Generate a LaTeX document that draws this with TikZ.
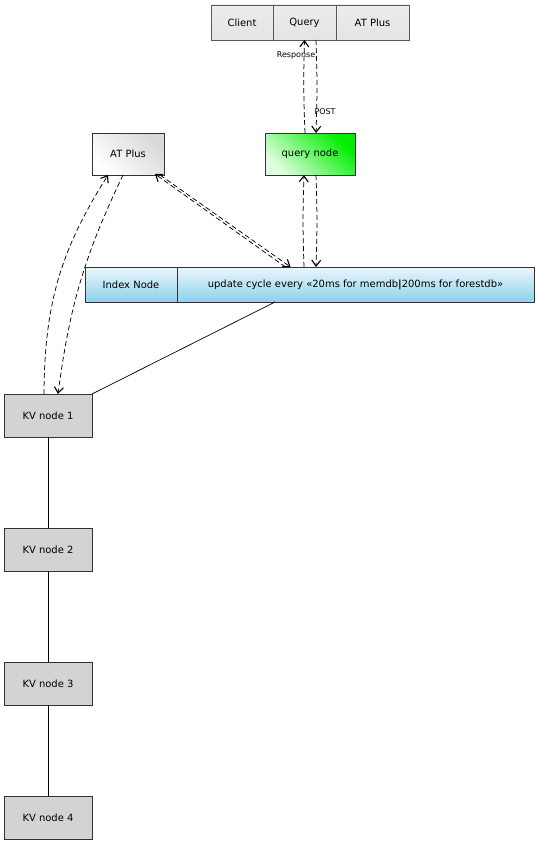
\documentclass[tikz,border=0pt]{standalone}
\usepackage{fontspec}
\setmainfont{DejaVu Sans}
\usetikzlibrary{arrows.meta}

\definecolor{boxline}{HTML}{333333}
\definecolor{bargray}{HTML}{E4E4E4}
\definecolor{kvgray}{HTML}{D3D3D3}
\definecolor{idxtop}{HTML}{EAF7FC}
\definecolor{idxbot}{HTML}{8ED1EC}
\definecolor{qgreen}{HTML}{00EE00}

\begin{document}
\begin{tikzpicture}[x=1bp,y=-1bp,>={Straight Barb[length=6bp,width=9bp,line width=1.1bp]},
    every node/.style={draw=boxline,line width=0.8bp,inner sep=0pt,outer sep=0pt,
      font=\fontsize{10}{12}\selectfont},
    barcell/.style={rectangle,top color=bargray!70,bottom color=bargray,draw=black!65,minimum height=35bp},
    kvbox/.style={rectangle,fill=kvgray,minimum width=88bp,minimum height=43bp},
    idxcell/.style={rectangle,top color=idxtop,bottom color=idxbot,minimum height=35bp},
    msg/.style={dashed,dash pattern=on 5bp off 3bp,line width=0.75bp},
    lbl/.style={draw=none,fill=none,font=\fontsize{8}{9}\selectfont}]
        \useasboundingbox (0,0) rectangle (538,844);
        % top bar
        \node[barcell,minimum width=62bp] (client) at (242,22.5) {Client};
        \node[barcell,minimum width=63bp] (query) at (304.5,22.5) {Query};
        \node[barcell,minimum width=73bp] (atplustop) at (372.5,22.5) {AT Plus};
        % middle boxes
        \node[rectangle,minimum width=72bp,minimum height=42bp,
          left color=white,right color=black!15,shading angle=135] (atplus) at (128,154) {AT Plus};
        \node[rectangle,minimum width=90bp,minimum height=42bp,
          left color=qgreen!12,right color=qgreen,shading angle=135] (qnode) at (310,154) {query node};
        % index node
        \node[idxcell,minimum width=92bp] (index) at (131,284.5) {Index Node};
        \node[idxcell,minimum width=357bp] (cycle) at (355.5,284.5)
          {update cycle every «20ms for memdb\textbf{|}200ms for forestdb»};
        % kv nodes
        \node[kvbox] (kv1) at (48,415.5) {KV node 1};
        \node[kvbox] (kv2) at (48,549.5) {KV node 2};
        \node[kvbox] (kv3) at (48,683.5) {KV node 3};
        \node[kvbox] (kv4) at (48,817.5) {KV node 4};

        % query <-> query node
        \draw[msg,->] ([xshift=-5bp]qnode.north) to[bend left=2] (query.south);
        \draw[msg,->] ([xshift=11.5bp]query.south) to[bend left=2] ([xshift=6bp]qnode.north);
        \node[lbl] (resp) at (296,55) {Response};
        \node[lbl] (post) at (325,112) {POST};
        % query node <-> index
        \draw[msg,->] ([xshift=-51.5bp]cycle.north) to[bend left=2] ([xshift=-6bp]qnode.south);
        \draw[msg,->] ([xshift=6bp]qnode.south) to[bend left=2] ([xshift=-39.5bp]cycle.north);
        % at plus <-> index
        \draw[msg,->] ([xshift=-70bp]cycle.north) -- ([xshift=-9bp,yshift=1bp]atplus.south east);
        \draw[msg,->] ([xshift=-4bp]atplus.south east) -- ([xshift=-65bp]cycle.north);
        % at plus <-> kv node 1
        \draw[msg,->] ([xshift=-4bp]kv1.north) to[bend left=16] ([xshift=-20bp]atplus.south);
        \draw[msg,->] ([xshift=-5bp]atplus.south) to[bend right=9] ([xshift=10bp]kv1.north);
        % solid links
        \draw[line width=0.7bp] ([xshift=-80.5bp]cycle.south) -- (kv1.north east);
        \draw[line width=0.7bp] (kv1) -- (kv2);
        \draw[line width=0.7bp] (kv2) -- (kv3);
        \draw[line width=0.7bp] (kv3) -- (kv4);
\end{tikzpicture}
\end{document}
